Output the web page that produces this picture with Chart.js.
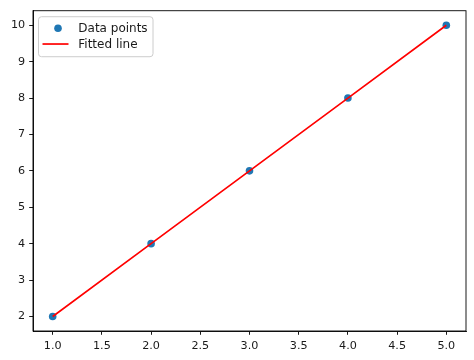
<!DOCTYPE html>
<html>
<head>
<meta charset="utf-8">
<script src="https://cdn.jsdelivr.net/npm/chart.js@4/dist/chart.umd.min.js"></script>
<style>
html,body{margin:0;padding:0;background:#fff;}
#wrap{position:relative;width:474px;height:360px;}
</style>
</head>
<body>
<div id="wrap"><canvas id="c" width="474" height="360"></canvas></div>
<script>
// Data
const xValues = [1, 2, 3, 4, 5];
const yValues = [2, 4, 6, 8, 10];
const fitY = [2, 4, 6, 8, 10];
const xTicks = [1.0, 1.5, 2.0, 2.5, 3.0, 3.5, 4.0, 4.5, 5.0];
const yTicks = [2, 3, 4, 5, 6, 7, 8, 9, 10];
const seriesNames = ['Data points', 'Fitted line'];

const FAMILY = '"DejaVu Sans", sans-serif';
const TICKFONT = {family: FAMILY, size: 11.2};
const LEGENDSIZE = 12;

const boxPlugin = {
  id: 'boxPlugin',
  afterDatasetsDraw(chart) {
    const {ctx, chartArea: a} = chart;
    ctx.save();
    ctx.strokeStyle = '#000';
    ctx.lineWidth = 0.9;
    ctx.strokeRect(a.left, a.top, a.right - a.left, a.bottom - a.top);
    ctx.restore();
  },
  afterDraw(chart) {
    const {ctx, chartArea: a} = chart;
    const ds = chart.data.datasets;
    const bx = a.left + 5.5, by = a.top + 6, bw = 114.5, bh = 40;
    ctx.save();
    const r = 3;
    ctx.beginPath();
    ctx.moveTo(bx + r, by);
    ctx.lineTo(bx + bw - r, by);
    ctx.arcTo(bx + bw, by, bx + bw, by + r, r);
    ctx.lineTo(bx + bw, by + bh - r);
    ctx.arcTo(bx + bw, by + bh, bx + bw - r, by + bh, r);
    ctx.lineTo(bx + r, by + bh);
    ctx.arcTo(bx, by + bh, bx, by + bh - r, r);
    ctx.lineTo(bx, by + r);
    ctx.arcTo(bx, by, bx + r, by, r);
    ctx.closePath();
    ctx.fillStyle = 'rgba(255,255,255,0.8)';
    ctx.fill();
    ctx.strokeStyle = '#cccccc';
    ctx.lineWidth = 1;
    ctx.stroke();
    ctx.font = LEGENDSIZE + 'px ' + FAMILY;
    ctx.textBaseline = 'alphabetic';
    ctx.textAlign = 'left';
    ctx.beginPath();
    ctx.arc(bx + 19.5, by + 11.5, 3.8, 0, Math.PI * 2);
    ctx.fillStyle = ds[0].backgroundColor;
    ctx.fill();
    ctx.fillStyle = '#1a1a1a';
    ctx.fillText(ds[0].label, bx + 39.8, by + 15);
    ctx.beginPath();
    ctx.moveTo(bx + 4, by + 27.3);
    ctx.lineTo(bx + 30, by + 27.3);
    ctx.strokeStyle = ds[1].borderColor;
    ctx.lineWidth = 1.7;
    ctx.stroke();
    ctx.fillText(ds[1].label, bx + 39.8, by + 31.7);
    ctx.restore();
  }
};

new Chart(document.getElementById('c'), {
  type: 'scatter',
  data: {
    datasets: [
      {
        label: seriesNames[0],
        data: xValues.map((x, i) => ({x: x, y: yValues[i]})),
        backgroundColor: '#1f77b4',
        borderColor: '#1f77b4',
        borderWidth: 0,
        pointRadius: 3.8,
        showLine: false,
        order: 1
      },
      {
        label: seriesNames[1],
        type: 'line',
        data: xValues.map((x, i) => ({x: x, y: fitY[i]})),
        borderColor: '#ff0000',
        backgroundColor: '#ff0000',
        borderWidth: 1.7,
        pointRadius: 0,
        fill: false,
        tension: 0,
        order: 0
      }
    ]
  },
  options: {
    responsive: false,
    animation: false,
    devicePixelRatio: 1,
    layout: {padding: {top: 9, right: 8, left: 0, bottom: 0}},
    plugins: {legend: {display: false}, tooltip: {enabled: false}},
    scales: {
      x: {
        type: 'linear',
        min: 0.8, max: 5.2,
        afterBuildTicks(s) { s.ticks = xTicks.map(v => ({value: v})); },
        afterFit(s) { s.height = 29; },
        grid: {drawOnChartArea: false, drawTicks: true, tickLength: 3.8, color: '#000', lineWidth: 0.9},
        border: {display: true, color: '#000', width: 0.9},
        ticks: {
          color: '#1a1a1a', font: TICKFONT, padding: 4.5, maxRotation: 0, autoSkip: false,
          callback: v => Number(v).toFixed(1)
        }
      },
      y: {
        type: 'linear',
        min: 1.6, max: 10.4,
        afterBuildTicks(s) { s.ticks = yTicks.map(v => ({value: v})); },
        afterFit(s) { s.width = 33; },
        grid: {drawOnChartArea: false, drawTicks: true, tickLength: 3.8, color: '#000', lineWidth: 0.9},
        border: {display: true, color: '#000', width: 0.9},
        ticks: {
          color: '#1a1a1a', font: TICKFONT, padding: 4, autoSkip: false,
          callback: v => String(v)
        }
      }
    }
  },
  plugins: [boxPlugin]
});
</script>
</body>
</html>
